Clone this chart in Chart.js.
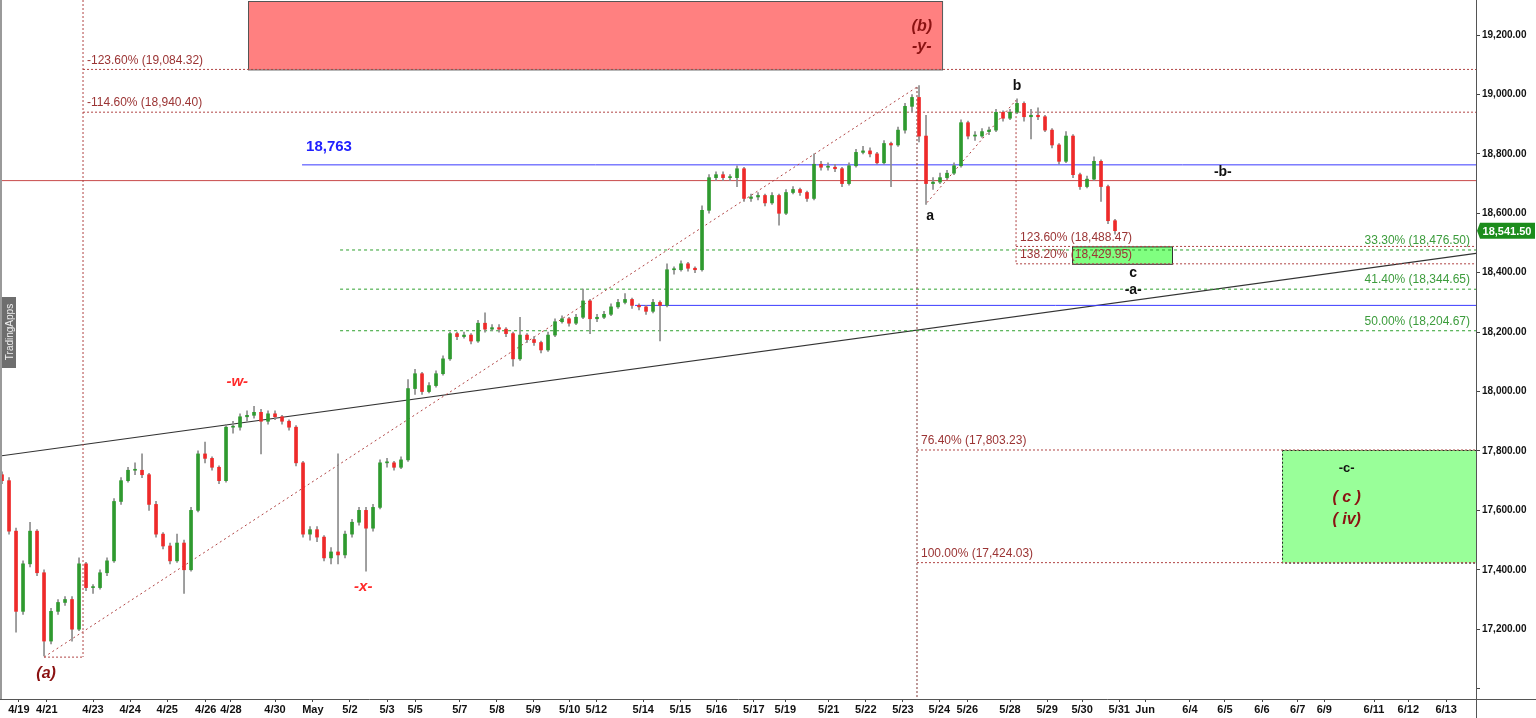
<!DOCTYPE html>
<html lang="en">
<head>
    <meta charset="UTF-8">
    <title>Wave count</title>
    <script src="https://cdn.jsdelivr.net/npm/chart.js"></script>
    <style>
        body {
            margin: 0;
            padding: 0;
            background: #fff;
        }
        #wrap {
            width: 1536px;
            height: 718px;
            position: relative;
        }
    </style>
</head>
<body>
    <div id="wrap"><canvas id="priceChart"></canvas></div>

    <script>
        // bottom axis: date labels and where they sit (in bar slots)
        const tickLabels = ['4/19','4/21','4/23','4/24','4/25','4/26','4/28','4/30','May','5/2','5/3','5/5','5/7','5/8','5/9','5/10','5/12','5/14','5/15','5/16','5/17','5/19','5/21','5/22','5/23','5/24','5/26','5/28','5/29','5/30','5/31','Jun','6/4','6/5','6/6','6/7','6/9','6/11','6/12','6/13'];
        const tickPos = [2.4, 6.4, 13.0, 18.3, 23.6, 29.1, 32.7, 39.0, 44.4, 49.7, 55.0, 59.0, 65.4, 70.7, 75.9, 81.1, 84.9, 91.6, 96.9, 102.1, 107.4, 111.9, 118.1, 123.4, 128.7, 133.9, 137.9, 144.0, 149.3, 154.3, 159.6, 163.3, 169.7, 174.7, 180.0, 185.1, 188.9, 196.0, 200.9, 206.3];
        const priceTicks = [17000, 17200, 17400, 17600, 17800, 18000, 18200, 18400, 18600, 18800, 19000, 19200];

        // candles, one per slot
        const opens = [
            17720, 17700, 17530, 17260, 17420, 17530, 17390, 17160, 17260, 17290,
            17300, 17200, 17420, 17340, 17340, 17390, 17430, 17630, 17700, 17735,
            17735, 17720, 17620, 17520, 17480, 17430, 17490, 17400, 17600, 17790,
            17775, 17745, 17700, 17880, 17880, 17915, 17920, 17930, 17900, 17925,
            17915, 17900, 17880, 17760, 17520, 17535, 17510, 17440, 17460, 17450,
            17520, 17560, 17600, 17540, 17610, 17760, 17760, 17745, 17770, 18010,
            18060, 18000, 18020, 18060, 18110, 18195, 18185, 18190, 18170, 18230,
            18210, 18215, 18210, 18195, 18110, 18190, 18175, 18165, 18140, 18190,
            18235, 18245, 18230, 18250, 18305, 18245, 18250, 18260, 18285, 18300,
            18310, 18290, 18285, 18270, 18300, 18290, 18410, 18410, 18430, 18415,
            18410, 18610, 18720, 18730, 18720, 18720, 18750, 18650, 18655, 18660,
            18635, 18660, 18600, 18670, 18680, 18670, 18650, 18765, 18755, 18755,
            18750, 18700, 18760, 18805, 18810, 18800, 18770, 18835, 18830, 18880,
            18960, 18990, 18860, 18700, 18705, 18720, 18735, 18760, 18905, 18860,
            18860, 18875, 18880, 18940, 18920, 18940, 18970, 18925, 18930, 18925,
            18880, 18830, 18775, 18860, 18730, 18690, 18715, 18775, 18690, 18575
        ];
        const highs = [
            17730, 17710, 17540, 17430, 17560, 17535, 17400, 17270, 17300, 17310,
            17310, 17440, 17425, 17350, 17400, 17440, 17640, 17710, 17745, 17760,
            17790, 17725, 17630, 17525, 17490, 17520, 17500, 17610, 17800, 17830,
            17780, 17750, 17890, 17900, 17925, 17935, 17950, 17940, 17935, 17935,
            17920, 17905, 17885, 17765, 17545, 17545, 17515, 17475, 17790, 17530,
            17570, 17610, 17610, 17620, 17770, 17775, 17765, 17780, 18040, 18075,
            18065, 18030, 18070, 18120, 18200, 18200, 18200, 18195, 18240, 18265,
            18225, 18225, 18215, 18200, 18250, 18195, 18185, 18170, 18200, 18245,
            18255, 18250, 18260, 18345, 18310, 18260, 18270, 18295, 18310, 18330,
            18315, 18295, 18290, 18310, 18305, 18430, 18420, 18440, 18435, 18420,
            18625, 18730, 18740, 18740, 18730, 18760, 18755, 18665, 18670, 18665,
            18670, 18665, 18680, 18690, 18685, 18675, 18800, 18775, 18770, 18765,
            18755, 18770, 18815, 18825, 18820, 18805, 18845, 18840, 18890, 18970,
            19000, 19030, 18930, 18720, 18735, 18745, 18770, 18915, 18910, 18875,
            18885, 18890, 18950, 18945, 18950, 18985, 18975, 18950, 18955, 18930,
            18885, 18835, 18875, 18865, 18735, 18725, 18790, 18780, 18695, 18580
        ];
        const lows = [
            17690, 17520, 17190, 17250, 17410, 17380, 17110, 17150, 17250, 17280,
            17160, 17195, 17330, 17320, 17335, 17380, 17425, 17620, 17695, 17720,
            17710, 17600, 17510, 17470, 17420, 17425, 17320, 17395, 17595, 17760,
            17735, 17690, 17695, 17860, 17870, 17900, 17910, 17790, 17890, 17905,
            17890, 17870, 17750, 17510, 17500, 17495, 17430, 17420, 17420, 17440,
            17510, 17550, 17395, 17530, 17605, 17745, 17735, 17740, 17765, 17990,
            17990, 17995, 18015, 18055, 18105, 18175, 18180, 18160, 18165, 18200,
            18205, 18200, 18185, 18085, 18105, 18165, 18155, 18130, 18135, 18185,
            18230, 18220, 18225, 18245, 18195, 18235, 18245, 18255, 18280, 18295,
            18280, 18275, 18260, 18265, 18170, 18285, 18395, 18405, 18405, 18400,
            18405, 18600, 18710, 18710, 18710, 18690, 18640, 18640, 18645, 18625,
            18630, 18560, 18595, 18665, 18660, 18640, 18645, 18745, 18745, 18740,
            18690, 18695, 18755, 18800, 18790, 18765, 18765, 18690, 18825, 18870,
            18940, 18840, 18630, 18680, 18700, 18715, 18730, 18755, 18850, 18845,
            18855, 18865, 18875, 18910, 18915, 18935, 18910, 18850, 18915, 18875,
            18820, 18765, 18770, 18720, 18680, 18685, 18710, 18640, 18565, 18530
        ];
        const closes = [
            17700, 17530, 17260, 17420, 17530, 17390, 17160, 17260, 17290, 17300,
            17200, 17420, 17340, 17340, 17390, 17430, 17630, 17700, 17735, 17735,
            17720, 17620, 17520, 17480, 17430, 17490, 17400, 17600, 17790, 17775,
            17745, 17700, 17880, 17880, 17915, 17920, 17930, 17900, 17925, 17915,
            17900, 17880, 17760, 17520, 17535, 17510, 17440, 17460, 17450, 17520,
            17560, 17600, 17540, 17610, 17760, 17760, 17745, 17770, 18010, 18060,
            18000, 18020, 18060, 18110, 18195, 18185, 18190, 18170, 18230, 18210,
            18215, 18210, 18195, 18110, 18190, 18175, 18165, 18140, 18190, 18235,
            18245, 18230, 18250, 18305, 18245, 18250, 18260, 18285, 18300, 18310,
            18290, 18285, 18270, 18300, 18290, 18410, 18410, 18430, 18415, 18410,
            18610, 18720, 18730, 18720, 18720, 18750, 18650, 18655, 18660, 18635,
            18660, 18600, 18670, 18680, 18670, 18650, 18765, 18755, 18755, 18750,
            18700, 18760, 18805, 18810, 18800, 18770, 18835, 18830, 18880, 18960,
            18990, 18860, 18700, 18705, 18720, 18735, 18760, 18905, 18860, 18860,
            18875, 18880, 18940, 18920, 18940, 18970, 18925, 18930, 18925, 18880,
            18830, 18775, 18860, 18730, 18690, 18715, 18775, 18690, 18575, 18541.5
        ];
        const lastPrice = 18541.50;

        // fibonacci levels drawn as dotted dark red lines: price, start slot, label
        const fibLevels = [
            { v: 19084.32, from: 11.57, text: '-123.60% (19,084.32)' },
            { v: 18940.40, from: 11.57, text: '-114.60% (18,940.40)' },
            { v: 18488.47, from: 144.86, text: '123.60% (18,488.47)' },
            { v: 18429.95, from: 144.86, text: '138.20% (18,429.95)' },
            { v: 17803.23, from: 130.71, text: '76.40% (17,803.23)' },
            { v: 17424.03, from: 130.71, text: '100.00% (17,424.03)' }
        ];
        // retracement levels, green dashed, labelled on the right
        const retraceLevels = [
            { v: 18476.50, text: '33.30% (18,476.50)' },
            { v: 18344.65, text: '41.40% (18,344.65)' },
            { v: 18204.67, text: '50.00% (18,204.67)' }
        ];
        const retraceFrom = 48.29;

        // wave labels: text, slot, price
        const waveLabels = [
            { t: 'a', x: 132.6, v: 18592, kind: 'minor' },
            { t: 'b', x: 145.0, v: 19029, kind: 'minor' },
            { t: 'c', x: 161.6, v: 18398, kind: 'minor' },
            { t: '-a-', x: 161.6, v: 18341, kind: 'minor' },
            { t: '-b-', x: 174.4, v: 18737, kind: 'minor' },
            { t: '-w-', x: 33.6, v: 18032, kind: 'red' },
            { t: '-x-', x: 51.6, v: 17344, kind: 'red' },
            { t: '(a)', x: 6.3, v: 17052, kind: 'major' },
            { t: '(b)', x: 131.4, v: 19227, kind: 'major' },
            { t: '-y-', x: 131.4, v: 19160, kind: 'major' },
            { t: '-c-', x: 192.1, v: 17740, kind: 'small' },
            { t: '( c )', x: 192.1, v: 17642, kind: 'major' },
            { t: '( iv)', x: 192.1, v: 17568, kind: 'major' }
        ];

        const UP = '#2f9a2f';
        const DOWN = '#ee2a2a';
        const WICK = '#8c8c8c';
        const DARKRED = '#9b3434';
        const FONT = "'Liberation Sans', Arial, sans-serif";

        const slots = closes.map((c, i) => i);

        // lines, boxes and texts of the wave count
        const overlay = {
            id: 'overlay',
            beforeDatasetsDraw(chart) {
                const { ctx, chartArea: a, scales: { x, y } } = chart;
                const px = v => x.getPixelForValue(v);
                const py = v => y.getPixelForValue(v);

                function line(x0, y0, x1, y1, color, dash, w) {
                    ctx.save();
                    ctx.strokeStyle = color;
                    ctx.lineWidth = w || 1;
                    ctx.setLineDash(dash || []);
                    ctx.beginPath();
                    ctx.moveTo(x0, y0);
                    ctx.lineTo(x1, y1);
                    ctx.stroke();
                    ctx.restore();
                }

                ctx.save();
                ctx.beginPath();
                ctx.rect(a.left, a.top, a.right - a.left, a.bottom - a.top);
                ctx.clip();

                // (b) -y- target zone
                const rx0 = px(35.14), rx1 = px(134.29), ry1 = py(19084.32);
                ctx.fillStyle = '#ff8080';
                ctx.fillRect(rx0, a.top + 1, rx1 - rx0, ry1 - a.top - 1);
                ctx.strokeStyle = '#555';
                ctx.lineWidth = 1;
                ctx.strokeRect(rx0 + 0.5, a.top + 1.5, rx1 - rx0, ry1 - a.top - 1);

                // (c)(iv) target zone
                const gx0 = px(182.86), gy0 = py(17803.23), gy1 = py(17424.03);
                ctx.fillStyle = '#99ff99';
                ctx.fillRect(gx0, gy0, a.right - gx0, gy1 - gy0);
                ctx.strokeStyle = '#222';
                ctx.setLineDash([2, 2]);
                ctx.strokeRect(gx0 + 0.5, gy0 + 0.5, a.right - gx0, gy1 - gy0);
                ctx.setLineDash([]);

                // small box round the 138.2% value
                const bx0 = px(152.86), bx1 = px(167.14), by0 = py(18488.47), by1 = py(18429.95);
                ctx.fillStyle = '#80ff80';
                ctx.fillRect(bx0, by0, bx1 - bx0, by1 - by0);
                ctx.strokeStyle = '#333';
                ctx.strokeRect(bx0 + 0.5, by0 + 0.5, bx1 - bx0, by1 - by0);

                // trend line under the lows
                line(px(-0.29), py(17783), px(210.57), py(18465), '#333', [], 1.2);

                // horizontal levels
                line(a.left, py(18710), a.right, py(18710), '#c84a4a');
                line(px(42.86), py(18763), a.right, py(18763), '#3a3aff');
                line(px(90.43), py(18290), a.right, py(18290), '#3a3aff');

                retraceLevels.forEach(l => {
                    line(px(retraceFrom), py(l.v), a.right, py(l.v), '#2ea02e', [3, 3]);
                });
                fibLevels.forEach(l => {
                    line(px(l.from), py(l.v), a.right, py(l.v), '#b04444', [2, 2]);
                });

                // (a) bracket, (a)-(b) channel, a-b leg and vertical markers
                line(px(11.57), a.top, px(11.57), py(17106), '#b04444', [2, 2]);
                line(px(6.0), py(17106), px(11.57), py(17106), '#b04444', [2, 2]);
                line(px(6.0), py(17106), px(130.71), py(19025), '#b04444', [2, 3]);
                line(px(130.71), py(19025), px(130.71), a.bottom, '#7a3030', [2, 2]);
                line(px(132.14), py(18636), px(144.86), py(18981), '#b04444', [2, 3]);
                line(px(144.86), py(18981), px(144.86), py(18429.95), '#b04444', [2, 2]);

                // level labels
                ctx.font = '12px ' + FONT;
                ctx.textBaseline = 'bottom';
                ctx.fillStyle = DARKRED;
                ctx.textAlign = 'left';
                fibLevels.forEach(l => {
                    ctx.fillText(l.text, px(l.from) + 4, py(l.v) - 3);
                });
                ctx.fillStyle = '#3c9c3c';
                ctx.textAlign = 'right';
                retraceLevels.forEach(l => {
                    ctx.fillText(l.text, a.right - 6, py(l.v) - 3);
                });

                ctx.fillStyle = '#2020ff';
                ctx.textAlign = 'left';
                ctx.textBaseline = 'middle';
                ctx.font = 'bold 15px ' + FONT;
                ctx.fillText('18,763', px(43.43), py(18824));

                ctx.restore();
            },
            afterDatasetsDraw(chart) {
                const { ctx, scales: { x, y } } = chart;
                ctx.save();
                ctx.textAlign = 'center';
                ctx.textBaseline = 'middle';
                waveLabels.forEach(l => {
                    if (l.kind === 'minor') {
                        ctx.font = 'bold 14px ' + FONT;
                        ctx.fillStyle = '#111';
                    } else if (l.kind === 'small') {
                        ctx.font = 'bold 13px ' + FONT;
                        ctx.fillStyle = '#111';
                    } else if (l.kind === 'red') {
                        ctx.font = 'italic bold 15px ' + FONT;
                        ctx.fillStyle = '#ff2a2a';
                    } else {
                        ctx.font = 'italic bold 16px ' + FONT;
                        ctx.fillStyle = '#8b1212';
                    }
                    ctx.fillText(l.t, x.getPixelForValue(l.x), y.getPixelForValue(l.v));
                });
                ctx.restore();
            },
            afterDraw(chart) {
                const { ctx, chartArea: a, scales: { y } } = chart;
                ctx.save();

                // left border and axis lines running to the canvas edges
                ctx.fillStyle = '#9a9a9a';
                ctx.fillRect(0, 0, 2, a.bottom);
                ctx.fillStyle = '#555';
                ctx.fillRect(a.right, a.bottom, chart.width - a.right, 1);
                ctx.fillRect(a.right, a.bottom, 1, chart.height - a.bottom);

                // last price tag
                const ty = y.getPixelForValue(lastPrice);
                ctx.fillStyle = '#1c8c1c';
                ctx.beginPath();
                ctx.moveTo(a.right + 1, ty);
                ctx.lineTo(a.right + 4, ty - 8);
                ctx.lineTo(chart.width - 1, ty - 8);
                ctx.lineTo(chart.width - 1, ty + 8);
                ctx.lineTo(a.right + 4, ty + 8);
                ctx.closePath();
                ctx.fill();
                ctx.fillStyle = '#fff';
                ctx.font = 'bold 11px ' + FONT;
                ctx.textAlign = 'center';
                ctx.textBaseline = 'middle';
                ctx.fillText('18,541.50', (a.right + chart.width) / 2 + 1, ty + 1);

                // TradingApps badge
                ctx.fillStyle = '#6e6e6e';
                ctx.fillRect(2, 297, 14, 71);
                ctx.translate(10, 332);
                ctx.rotate(-Math.PI / 2);
                ctx.fillStyle = '#f0f0f0';
                ctx.font = '10px ' + FONT;
                ctx.fillText('TradingApps', 0, 0);
                ctx.restore();
            }
        };

        function buildChart() {
            const ctx = document.getElementById('priceChart').getContext('2d');
            new Chart(ctx, {
                type: 'bar',
                data: {
                    datasets: [{
                        label: 'wicks',
                        data: slots.map(i => ({ x: i, y: [lows[i], highs[i]] })),
                        backgroundColor: WICK,
                        barThickness: 1,
                        grouped: false,
                        order: 2
                    }, {
                        label: 'bodies',
                        data: slots.map(i => ({ x: i, y: [opens[i], closes[i]] })),
                        backgroundColor: c => closes[c.dataIndex] >= opens[c.dataIndex] ? UP : DOWN,
                        barThickness: 3,
                        minBarLength: 1,
                        grouped: false,
                        order: 1
                    }]
                },
                options: {
                    responsive: true,
                    maintainAspectRatio: false,
                    animation: false,
                    layout: { padding: 0 },
                    plugins: {
                        legend: { display: false },
                        tooltip: { enabled: false }
                    },
                    scales: {
                        x: {
                            type: 'linear',
                            offset: false,
                            min: -0.29,
                            max: 210.57,
                            afterBuildTicks: s => { s.ticks = tickPos.map(v => ({ value: v })); },
                            afterFit: s => { s.height = 19; s.paddingLeft = 0; s.paddingRight = 0; },
                            grid: { drawOnChartArea: false, offset: false, tickLength: 3, color: '#444' },
                            border: { color: '#555' },
                            ticks: {
                                autoSkip: false,
                                maxRotation: 0,
                                padding: 1,
                                color: '#111',
                                font: { family: FONT, size: 11, weight: 'bold' },
                                callback: (v, i) => tickLabels[i]
                            }
                        },
                        y: {
                            position: 'right',
                            min: 16965,
                            max: 19318,
                            afterBuildTicks: s => { s.ticks = priceTicks.map(v => ({ value: v })); },
                            afterFit: s => { s.width = 60; s.paddingTop = 0; s.paddingBottom = 0; },
                            grid: { drawOnChartArea: false, tickLength: 4, color: '#444' },
                            border: { color: '#555' },
                            ticks: {
                                padding: 2,
                                color: '#111',
                                font: { family: FONT, size: 10, weight: 'bold' },
                                callback: v => v === 17000 ? '' : v.toLocaleString('en-US', { minimumFractionDigits: 2, maximumFractionDigits: 2 })
                            }
                        }
                    }
                },
                plugins: [overlay]
            });
        }

        document.addEventListener('DOMContentLoaded', buildChart);
    </script>
</body>
</html>
